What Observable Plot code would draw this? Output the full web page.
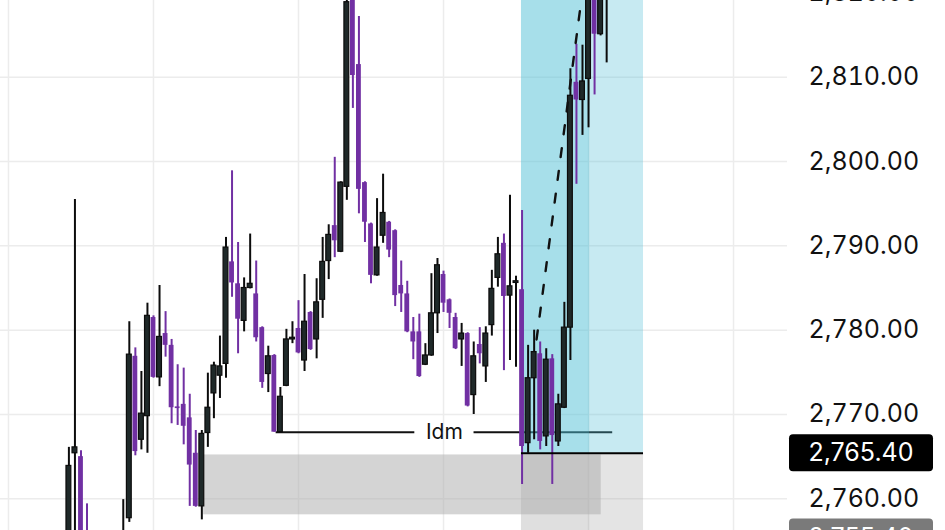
<!DOCTYPE html>
<html><head><meta charset="utf-8">
<script src="https://cdn.jsdelivr.net/npm/d3@7"></script>
<script src="https://cdn.jsdelivr.net/npm/@observablehq/plot@0.6"></script>
<style>html,body{margin:0;padding:0;background:#fff;} #chart svg{display:block;}</style>
</head><body><div id="chart"></div>
<script>
// OHLC values per bar (bar index = position in arrays)
const opens  = [2752.0,2765.4,2765.0,2755.8,2752.0,2749.5,2752.5,2750.0,2751.5,2750.5,
                2757.7,2776.9,2767.0,2769.8,2781.5,2774.4,2779.6,2778.2,2770.9,2771.2,
                2769.6,2765.4,2759.1,2767.8,2772.5,2774.6,2776.0,2788.1,2785.5,2781.1,
                2785.0,2784.3,2780.3,2774.8,2777.0,2767.9,2773.4,2778.9,2780.2,2776.4,
                2782.1,2778.9,2783.6,2788.2,2792.4,2789.3,2797.0,2819.5,2811.5,2797.5,
                2792.6,2786.5,2791.2,2792.8,2791.8,2785.3,2784.3,2779.8,2779.8,2775.9,
                2777.0,2782.0,2786.6,2783.6,2781.5,2778.9,2779.6,2772.3,2778.3,2775.7,
                2780.6,2786.2,2790.3,2784.1,2785.6,2784.8,2766.6,2774.3,2777.2,2767.4,
                2776.6,2766.8,2770.8,2780.3,2809.4,2807.3,2809.8,2822.0,2815.1,2820.0];
const highs  = [2766.1,2795.5,2765.7,2759.4,2755.0,2754.0,2755.2,2753.5,2755.4,2759.9,
                2781.0,2777.9,2775.1,2783.2,2781.7,2785.3,2782.2,2778.9,2775.9,2775.5,
                2772.4,2768.1,2768.1,2774.9,2776.2,2779.3,2791.0,2798.9,2790.4,2786.2,
                2791.4,2788.2,2780.4,2778.1,2777.1,2773.2,2780.1,2781.0,2783.5,2786.6,
                2782.2,2786.1,2791.0,2792.5,2800.5,2797.6,2822.0,2822.5,2817.2,2797.6,
                2792.7,2795.6,2798.5,2792.9,2791.9,2788.2,2785.8,2781.5,2781.9,2778.4,
                2786.7,2788.5,2787.0,2783.7,2782.0,2780.8,2779.7,2778.6,2780.3,2780.4,
                2787.1,2791.0,2791.4,2796.0,2786.4,2794.2,2778.2,2780.0,2778.6,2777.8,
                2777.1,2772.4,2783.3,2811.0,2813.9,2813.8,2823.0,2824.0,2824.0,2825.0];
const lows   = [2749.0,2749.5,2751.0,2750.5,2748.5,2747.0,2748.0,2746.5,2749.0,2749.5,
                2757.2,2765.1,2765.8,2765.4,2774.3,2773.3,2776.8,2768.9,2768.7,2766.4,
                2759.1,2759.0,2757.5,2766.1,2769.5,2771.9,2774.3,2783.9,2777.2,2779.8,
                2784.9,2778.6,2773.1,2772.6,2767.9,2767.9,2773.3,2778.4,2777.2,2775.1,
                2777.6,2776.6,2781.4,2786.0,2788.6,2789.2,2795.4,2806.3,2793.8,2790.4,
                2785.5,2786.4,2790.3,2788.6,2782.8,2782.1,2779.7,2776.5,2774.4,2775.8,
                2776.9,2779.6,2782.1,2780.2,2777.7,2775.7,2770.9,2770.0,2776.0,2773.8,
                2779.3,2785.1,2775.2,2776.4,2775.6,2761.7,2765.4,2767.0,2765.8,2766.2,
                2761.7,2766.2,2770.7,2776.4,2797.3,2803.1,2804.0,2807.9,2814.9,2811.7];
const closes = [2763.9,2766.1,2753.5,2752.0,2749.5,2752.5,2750.0,2751.5,2750.5,2755.6,
                2777.1,2765.6,2770.1,2781.7,2774.4,2779.2,2778.2,2770.8,2770.7,2768.6,
                2764.0,2759.1,2767.7,2770.8,2775.8,2775.7,2789.8,2785.6,2781.3,2785.0,
                2785.5,2779.1,2773.8,2776.9,2767.9,2772.1,2778.9,2779.1,2777.3,2781.0,
                2777.7,2783.3,2788.1,2791.3,2790.6,2797.5,2818.9,2810.2,2796.7,2792.8,
                2786.5,2789.8,2793.9,2789.5,2784.1,2784.3,2779.8,2778.6,2774.5,2777.0,
                2782.0,2787.7,2783.2,2782.0,2777.8,2779.6,2771.0,2776.9,2777.2,2779.6,
                2784.9,2789.0,2784.0,2785.2,2785.8,2766.2,2774.3,2777.4,2766.8,2776.5,
                2767.5,2771.2,2780.3,2807.8,2807.3,2809.5,2821.0,2815.1,2822.0,2823.0];

const priceTicks = [2760, 2770, 2780, 2790, 2800, 2810, 2820];
const timeTicks  = [-10, 14, 38, 62, 86, 110];

// long-position tool
const entryPrice  = 2765.40;
const stopPrice   = 2755.40;
const targetPrice = 2826.0;
const positionBars = [74.9, 86.2, 95.1]; // start, current, end

// order block zone: bar from, bar to, low, high
const obZone = [22.3, 88.1, 2758.1, 2765.2];
// inducement line: bar from, bar to, price
const idmLine = [34.3, 90.0, 2767.9];
const idmLabel = "Idm";
// dashed projection: [bar, price]
const dashedPath = [[77.4, 2778.9], [85.0, 2820.2]];

const candles = opens.map((o, i) => ({i, o, h: highs[i], l: lows[i], c: closes[i], up: closes[i] >= o}));
const fmt = d3.format(",.2f");
const UP_FILL = "#1f2929", UP_LINE = "#0c0c0c", DOWN = "#7130a3";

const idmMid = (idmLine[0] + idmLine[1]) / 2;
const idmSegs = [
  {x1: idmLine[0], x2: idmMid - 4.9, y: idmLine[2]},
  {x1: idmMid + 4.9, x2: idmLine[1], y: idmLine[2]}
];
const [pStart, pNow, pEnd] = positionBars;
const zones = [
  {x1: pStart, x2: pNow, y1: entryPrice, y2: targetPrice, fill: "#50bfd6", op: 0.5},
  {x1: pNow, x2: pEnd, y1: entryPrice, y2: targetPrice, fill: "#50bfd6", op: 0.32},
  {x1: pStart, x2: pNow, y1: stopPrice, y2: entryPrice, fill: "#9e9e9e", op: 0.33},
  {x1: pNow, x2: pEnd, y1: stopPrice, y2: entryPrice, fill: "#9e9e9e", op: 0.28}
];

const chart = Plot.plot({
  width: 945, height: 530,
  marginLeft: 0, marginRight: 158, marginTop: 0, marginBottom: 0,
  x: {domain: [-11.32, 118.93], axis: null},
  y: {domain: [2756.24, 2819.10], axis: null},
  style: {fontFamily: "Inter, 'Noto Sans', sans-serif", fontSize: "25px", overflow: "hidden", background: "#fff"},
  marks: [
    Plot.ruleX(timeTicks, {stroke: "#ececec", strokeWidth: 1.5}),
    Plot.ruleY(priceTicks, {stroke: "#ececec", strokeWidth: 1.5}),
    Plot.ruleY(idmSegs, {x1: "x1", x2: "x2", y: "y", stroke: "#111", strokeWidth: 2, clip: true}),
    Plot.rect(zones, {x1: "x1", x2: "x2", y1: "y1", y2: "y2", fill: "fill", fillOpacity: "op", clip: true}),
    Plot.rect([obZone], {x1: d => d[0], x2: d => d[1], y1: d => d[2], y2: d => d[3], fill: "#aeaeae", fillOpacity: 0.53, clip: true}),
    Plot.ruleX(candles, {x: "i", y1: "l", y2: "h", stroke: d => d.up ? UP_LINE : DOWN, strokeWidth: 2, clip: true}),
    Plot.rect(candles, {x1: d => d.i - 0.4, x2: d => d.i + 0.4, y1: "o", y2: "c",
      fill: d => d.up ? UP_FILL : DOWN, stroke: d => d.up ? UP_LINE : "none", strokeWidth: 1.2, clip: true}),
    Plot.ruleY([entryPrice], {x1: pStart, x2: pEnd, stroke: "#000", strokeWidth: 2, clip: true}),
    Plot.line(dashedPath, {x: d => d[0], y: d => d[1], stroke: "#111", strokeWidth: 2.4, strokeDasharray: "9,14", clip: true}),
    Plot.text([idmLabel], {x: idmMid, y: idmLine[2], text: d => d, fontSize: 21, fill: "#111", fontWeight: 400}),
    Plot.axisY(priceTicks, {anchor: "right", tickSize: 0, tickPadding: 21, tickFormat: fmt, fill: "#111", label: null}),
    Plot.rect([entryPrice], {y1: d => d - 2.19, y2: d => d + 2.19, insetLeft: 789, insetRight: -146, fill: "#000", rx: 4}),
    Plot.text([entryPrice], {y: d => d, text: fmt, frameAnchor: "right", dx: 21, textAnchor: "start", fill: "#fff"}),
    Plot.rect([stopPrice], {y1: d => d - 2.19, y2: d => d + 2.19, insetLeft: 789, insetRight: -146, fill: "#7a7a7a", rx: 4}),
    Plot.text([stopPrice], {y: d => d, text: fmt, frameAnchor: "right", dx: 21, textAnchor: "start", fill: "#fff"})
  ]
});
document.getElementById("chart").append(chart);
</script>
</body></html>
